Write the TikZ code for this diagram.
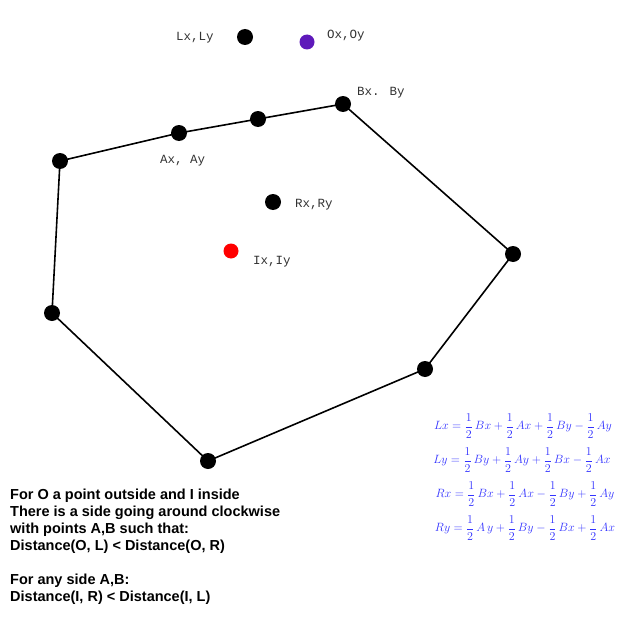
\documentclass[tikz,border=0pt]{standalone}
\usepackage{fontspec}
\setmainfont{Liberation Serif}
\newfontfamily\labfont{Liberation Mono}
\newfontfamily\boldsans{Liberation Sans}
\newcommand{\hf}{\dfrac{1}{2}\,}
\usepackage{amsmath}
\begin{document}
\begin{tikzpicture}[x=1pt,y=-1pt,
  dot/.style={circle,fill=black,inner sep=0pt,minimum size=16pt},
  lab/.style={font=\labfont\fontsize{12.5}{14}\selectfont,text=black!80,inner sep=0pt},
  eq/.style={text=blue!80!white,font=\fontsize{12.5}{14}\selectfont,inner sep=0pt},
  side/.style={line width=1.6pt}]
\useasboundingbox[fill=white] (0,0) rectangle (640,626);
\node[dot] (L) at (245,37) {};
\node[dot,fill=blue!70!red!90!white,minimum size=15pt] (O) at (307,42) {};
\node[dot] (B) at (343,104) {};
\node[dot] (M) at (258,119) {};
\node[dot] (A) at (179,133) {};
\node[dot] (P1) at (60,161) {};
\node[dot] (P2) at (52,313) {};
\node[dot] (P3) at (208,461) {};
\node[dot] (P4) at (425,369) {};
\node[dot] (P5) at (513,254) {};
\node[dot] (R) at (273,202) {};
\node[dot,fill=red,minimum size=15pt] (I) at (231,251) {};
\draw[side] (P1.center) -- (A.center) -- (M.center) -- (B.center) -- (P5.center) -- (P4.center) -- (P3.center) -- (P2.center) -- cycle;
\node[lab,anchor=west] (tL) at (176,38) {Lx,Ly};
\node[lab,anchor=west] (tO) at (327,36) {Ox,Oy};
\node[lab,anchor=west] (tB) at (357,93) {Bx. By};
\node[lab,anchor=west] (tA) at (160,161) {Ax, Ay};
\node[lab,anchor=west] (tR) at (295,205) {Rx,Ry};
\node[lab,anchor=west] (tI) at (253,262) {Ix,Iy};
\node[eq] (e1) at (523,426) {$Lx=\hf Bx+\hf Ax+\hf By-\hf Ay$};
\node[eq] (e2) at (522,460) {$Ly=\hf By+\hf Ay+\hf Bx-\hf Ax$};
\node[eq] (e3) at (525,494) {$Rx=\hf Bx+\hf Ax-\hf By+\hf Ay$};
\node[eq] (e4) at (525,528) {$Ry=\hf A\,y+\hf By-\hf Bx+\hf Ax$};
\node[anchor=north west,align=left,inner sep=0pt,font=\boldsans\bfseries\fontsize{14.5}{17}\selectfont] (txt) at (10,489)
{For O a point outside and I inside\\There is a side going around clockwise\\with points A,B such that:\\Distance(O, L) {\textless} Distance(O, R)\\[17pt]For any side A,B:\\Distance(I, R) {\textless} Distance(I, L)};
\end{tikzpicture}
\end{document}
